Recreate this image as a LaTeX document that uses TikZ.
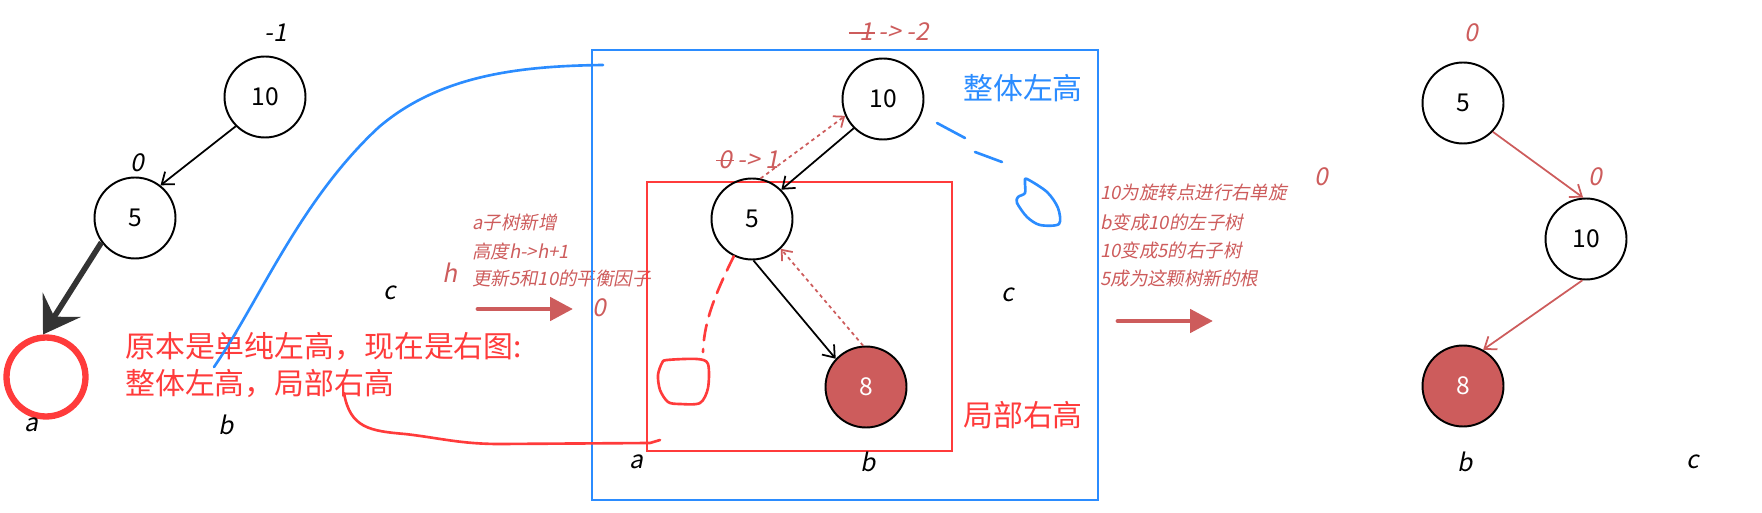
\documentclass[tikz,border=0pt]{standalone}
\usepackage{fontspec}
\setmainfont{Noto Sans CJK SC}
\newfontfamily\slfont[FakeSlant=0.2]{Noto Sans CJK SC}
\usetikzlibrary{arrows.meta}
\definecolor{hintred}{HTML}{CD5C5C}
\definecolor{penred}{HTML}{FF3B3B}
\definecolor{penblue}{HTML}{2B8CFF}
\definecolor{darkarrow}{HTML}{333333}
\newcommand\strk[1]{\begingroup\setbox0\hbox{#1}\rlap{\kern-0.1em\rule[0.3em]{\dimexpr\wd0+0.15em}{0.07em}}\box0\endgroup}

\begin{document}
\begin{tikzpicture}[x=0.02cm, y=-0.02cm,
  tnode/.style={circle, draw, line width=1.1pt, minimum size=1.62cm, inner sep=0pt, font=\fontsize{14}{16}\selectfont},
  hot/.style={tnode, fill=hintred, text=white},
  edge/.style={-{Straight Barb[length=6pt, width=9pt]}, line width=1pt},
  redge/.style={edge, hintred},
  hint/.style={-{Straight Barb[length=5pt, width=8pt]}, hintred, line width=1pt, dash pattern=on 2pt off 2pt},
  tag/.style={font=\slfont\fontsize{14}{16}\selectfont, inner sep=1pt},
  rtag/.style={tag, text=hintred},
  note/.style={font=\slfont\fontsize{10.5}{12}\selectfont, text=hintred, anchor=west, inner sep=0pt},
  big/.style={font=\fontsize{17}{20}\selectfont, inner sep=0pt},
  fat/.style={-{Triangle[length=0.46cm, width=0.46cm]}, hintred, line width=2.8pt, line cap=round},
  pen/.style={line width=1.5pt, line cap=round, line join=round}
]
\useasboundingbox (0,0) rectangle (1762,513);

% before the insertion
\node[tnode] (l10) at (265,97) {10};
\node[tnode] (l5) at (135,218) {5};
\node[circle, draw=penred, line width=3.6pt, minimum size=1.58cm] (la) at (46,377) {};
\node[tag] (lt10) at (276,33) {-1};
\node[tag] (lt5) at (137,163) {0};
\node[tag] (lsa) at (31,425) {a};
\node[tag] (lsb) at (226,425) {b};
\node[tag] (lsc) at (390,293) {c};
\draw[edge] (l10.225) -- (l5.52);
\draw[-{Stealth[length=0.7cm, width=0.9cm, inset=0.28cm]}, darkarrow, line width=3.2pt] (l5.216) -- (la.94);

\node[big, text=penred, anchor=west] (say1) at (125,347) {原本是单纯左高，现在是右图:};
\node[big, text=penred, anchor=west] (say2) at (125,383) {整体左高，局部右高};

% insertion step
\node[rtag] (hh) at (450,273) {h};
\node[note] (n1) at (472,222) {a子树新增};
\node[note] (n2) at (472,251) {高度h->h+1};
\node[note] (n3) at (472,278) {更新5和10的平衡因子};
\coordinate (f1) at (478,309);
\coordinate (t1) at (573,309);
\draw[fat] (f1) -- (t1);
\node[rtag] (z1) at (599,308) {0};

% unbalanced tree
\draw[penblue, line width=1.4pt] (592,50) rectangle (1098,500);
\draw[penred, line width=1.4pt] (647,182) rectangle (952,451);
\node[big, text=penblue] (whole) at (1023,88) {整体左高};
\node[big, text=penred] (part) at (1023,415) {局部右高};

\node[tnode] (m10) at (883,99) {10};
\node[tnode] (m5) at (752,219) {5};
\node[hot] (m8) at (866,387) {8};
\node[rtag] (mt10) at (890,32) {\strk{-1} -> -2};
\node[rtag] (mt5) at (749,160) {\strk{0} -> 1};
\node[tag] (msa) at (636,462) {a};
\node[tag] (msb) at (868,462) {b};
\node[tag] (msc) at (1008,295) {c};
\draw[edge] (m10.225) -- (m5.45);
\draw[hint] (m5.78) -- (m10.204);
\draw[edge] (m5.272) -- (m8.137);
\draw[hint] (m8.94) -- (m5.314);

% pen marks
\coordinate (bs) at (214,367);
\coordinate (be) at (603,65);
\draw[pen, penblue] (bs) .. controls (260,300) and (300,200) .. (379,127) .. controls (440,75) and (520,66) .. (be);
\coordinate (rs) at (344,393);
\coordinate (re) at (660,440);
\draw[pen, penred] (rs) .. controls (350,428) and (370,431) .. (405,434) .. controls (440,438) and (460,444) .. (500,444) -- (650,443) -- (re);
\draw[pen, penred, dash pattern=on 9pt off 5pt] (m5.244) .. controls (712,300) and (704,325) .. (703,352);
\draw[pen, penred] plot[smooth cycle] coordinates {(667,360) (697,359) (708,364) (708,388) (700,403) (680,404) (668,402) (660,390) (658,375) (662,363)};
\draw[pen, penblue] (937,123) .. controls (950,130) .. (965,138);
\draw[pen, penblue] (975,152) .. controls (988,157) .. (1002,162);
\draw[pen, penblue] plot[smooth cycle] coordinates {(1027,179) (1047,192) (1058,208) (1059,224) (1040,225) (1027,217) (1017,203) (1018,197) (1025,193) (1025,182)};

% after the right rotation
\node[note] (k1) at (1100,193) {10为旋转点进行右单旋};
\node[note] (k2) at (1100,222) {b变成10的左子树};
\node[note] (k3) at (1100,250) {10变成5的右子树};
\node[note] (k4) at (1100,278) {5成为这颗树新的根};
\coordinate (f2) at (1118,321);
\coordinate (t2) at (1213,321);
\draw[fat] (f2) -- (t2);
\node[rtag] (z2) at (1321,177) {0};

\node[tnode] (r5) at (1463,103) {5};
\node[tnode] (r10) at (1586,239) {10};
\node[hot] (r8) at (1463,386) {8};
\node[rtag] (rt5) at (1471,33) {0};
\node[rtag] (rt10) at (1595,177) {0};
\node[tag] (rsb) at (1465,462) {b};
\node[tag] (rsc) at (1693,462) {c};
\draw[redge] (r5.316) -- (r10.94);
\draw[redge] (r10.265) -- (r8.61);
\end{tikzpicture}
\end{document}
